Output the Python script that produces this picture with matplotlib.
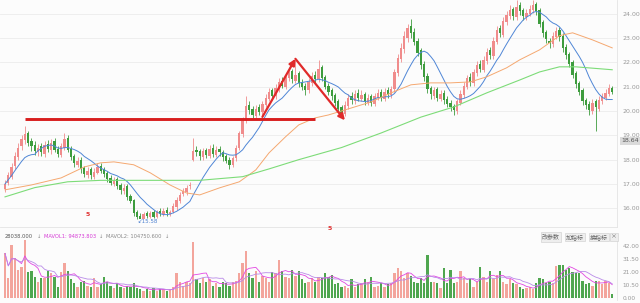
import numpy as np
import pandas as pd
import matplotlib
matplotlib.use("Agg")
import matplotlib.pyplot as plt

plt.rcParams['font.family'] = ['DejaVu Sans', 'Noto Sans CJK SC']
plt.rcParams['axes.unicode_minus'] = False

# daily candles
opens = [16.80, 17.05, 17.30, 17.75, 18.10, 18.55, 18.80, 19.10, 18.75, 18.60,
         18.30, 18.55, 18.25, 18.65, 18.40, 18.75, 18.45, 18.20, 18.50, 18.90,
         18.45, 18.15, 17.80, 18.00, 17.65, 17.35, 17.60, 17.30, 17.45, 17.75,
         17.60, 17.45, 17.25, 17.00, 17.20, 16.95, 16.70, 16.90, 16.50, 16.35,
         15.85, 15.70, 15.55, 15.80, 15.65, 15.85, 15.65, 15.90, 15.75, 15.95,
         15.75, 15.85, 16.05, 16.30, 16.60, 16.65, 16.90, 18.00, 18.40, 18.35,
         18.10, 18.40, 18.15, 18.50, 18.20, 18.45, 18.30, 18.15, 18.00, 17.80,
         18.05, 18.50, 19.05, 19.60, 20.25, 20.10, 19.80, 20.15, 19.95, 20.25,
         20.50, 20.85, 20.60, 20.90, 21.25, 21.00, 21.35, 21.65, 21.25, 21.55,
         21.20, 21.05, 20.85, 21.15, 21.50, 21.30, 21.80, 21.40, 21.05, 20.85,
         20.65, 20.40, 20.15, 19.90, 20.20, 20.60, 20.40, 20.75, 20.50, 20.70,
         20.35, 20.60, 20.30, 20.55, 20.80, 20.50, 20.85, 20.65, 20.90, 21.55,
         22.15, 22.55, 23.00, 23.50, 23.25, 22.90, 22.50, 21.95, 21.45, 20.95,
         20.60, 20.90, 20.50, 20.75, 20.50, 20.35, 20.20, 20.00, 20.35, 20.65,
         21.00, 21.40, 21.15, 21.55, 21.95, 21.70, 22.05, 22.50, 22.25, 22.85,
         23.40, 23.15, 23.65, 23.90, 24.20, 23.85, 24.35, 24.15, 23.85, 24.00,
         24.15, 24.40, 24.15, 23.65, 23.25, 22.90, 22.75, 23.05, 23.35, 23.10,
         22.65, 22.35, 22.00, 21.55, 21.15, 20.85, 20.45, 20.30, 20.00, 20.40,
         20.10, 20.40, 20.55, 20.70, 20.95]
closes = [17.00, 17.35, 17.70, 18.15, 18.50, 18.85, 19.05, 18.70, 18.55, 18.35,
          18.50, 18.30, 18.60, 18.45, 18.70, 18.40, 18.25, 18.55, 18.85, 18.40,
          18.10, 17.85, 17.95, 17.60, 17.40, 17.55, 17.35, 17.50, 17.70, 17.55,
          17.40, 17.20, 17.05, 17.15, 16.90, 16.75, 16.85, 16.45, 16.30, 15.80,
          15.65, 15.55, 15.75, 15.70, 15.80, 15.65, 15.85, 15.75, 15.90, 15.80,
          15.85, 16.10, 16.35, 16.55, 16.70, 16.85, 16.95, 18.35, 18.30, 18.15,
          18.35, 18.20, 18.45, 18.25, 18.40, 18.30, 18.10, 17.95, 17.80, 18.05,
          18.50, 19.10, 19.60, 20.20, 20.05, 19.85, 20.10, 19.95, 20.30, 20.55,
          20.80, 20.60, 20.95, 21.20, 21.05, 21.40, 21.60, 21.30, 21.50, 21.15,
          21.00, 20.85, 21.20, 21.45, 21.30, 21.75, 21.35, 21.00, 20.80, 20.60,
          20.35, 20.10, 19.90, 20.25, 20.55, 20.45, 20.70, 20.55, 20.65, 20.40,
          20.55, 20.35, 20.60, 20.75, 20.55, 20.80, 20.70, 20.90, 21.60, 22.20,
          22.60, 23.10, 23.40, 23.20, 22.85, 22.40, 21.90, 21.40, 20.90, 20.70,
          20.85, 20.55, 20.70, 20.45, 20.30, 20.15, 20.05, 20.40, 20.70, 21.05,
          21.35, 21.20, 21.60, 21.90, 21.75, 22.10, 22.45, 22.30, 22.90, 23.35,
          23.20, 23.70, 23.95, 24.15, 23.90, 24.30, 24.10, 23.90, 24.05, 24.20,
          24.35, 24.10, 23.60, 23.20, 22.95, 22.80, 23.10, 23.30, 23.05, 22.60,
          22.30, 21.95, 21.50, 21.10, 20.80, 20.40, 20.25, 20.05, 20.35, 20.15,
          20.45, 20.60, 20.75, 20.95, 20.80]
highs = [17.15, 17.50, 17.85, 18.30, 18.70, 19.00, 19.40, 19.20, 18.90, 18.75,
         18.65, 18.70, 18.75, 18.80, 18.85, 18.90, 18.55, 18.70, 19.10, 19.00,
         18.55, 18.25, 18.10, 18.10, 17.75, 17.70, 17.70, 17.65, 17.85, 17.85,
         17.70, 17.55, 17.35, 17.30, 17.30, 17.05, 17.00, 17.00, 16.60, 16.40,
         15.95, 15.80, 15.85, 15.90, 15.90, 15.95, 15.95, 16.00, 16.00, 16.05,
         15.95, 16.20, 16.45, 16.65, 16.85, 16.95, 17.10, 18.90, 18.55, 18.45,
         18.50, 18.50, 18.60, 18.65, 18.55, 18.55, 18.40, 18.25, 18.10, 18.15,
         18.60, 19.20, 19.75, 20.60, 20.40, 20.20, 20.25, 20.30, 20.40, 20.70,
         20.95, 20.95, 21.10, 21.35, 21.40, 21.55, 21.80, 21.75, 22.10, 21.65,
         21.30, 21.15, 21.35, 21.60, 21.65, 22.10, 21.90, 21.50, 21.15, 20.95,
         20.75, 20.50, 20.25, 20.40, 20.70, 20.80, 20.85, 20.90, 20.85, 20.80,
         20.70, 20.70, 20.75, 20.90, 20.90, 20.95, 21.00, 21.05, 21.75, 22.35,
         22.80, 23.30, 23.60, 23.80, 23.40, 23.00, 22.60, 22.05, 21.55, 21.05,
         21.00, 21.00, 20.85, 20.85, 20.60, 20.45, 20.30, 20.50, 20.85, 21.20,
         21.50, 21.55, 21.75, 22.05, 22.10, 22.25, 22.60, 22.65, 23.05, 23.50,
         23.55, 23.85, 24.10, 24.35, 24.30, 24.55, 24.50, 24.25, 24.20, 24.35,
         24.55, 24.50, 24.25, 23.75, 23.35, 23.00, 23.25, 23.45, 23.45, 23.20,
         22.75, 22.45, 22.10, 21.65, 21.25, 20.95, 20.55, 20.40, 20.50, 20.50,
         20.60, 20.75, 20.90, 21.10, 21.05]
lows = [16.65, 16.95, 17.20, 17.60, 18.00, 18.40, 18.65, 18.55, 18.35, 18.20,
        18.15, 18.15, 18.10, 18.30, 18.25, 18.30, 18.10, 18.10, 18.40, 18.30,
        18.00, 17.70, 17.70, 17.45, 17.30, 17.25, 17.20, 17.20, 17.40, 17.45,
        17.30, 17.10, 16.95, 16.90, 16.80, 16.60, 16.60, 16.35, 16.20, 15.70,
        15.55, 15.58, 15.60, 15.62, 15.60, 15.60, 15.60, 15.68, 15.70, 15.70,
        15.68, 15.80, 15.95, 16.20, 16.50, 16.55, 16.80, 17.95, 18.15, 18.00,
        18.00, 18.05, 18.05, 18.10, 18.10, 18.15, 17.95, 17.85, 17.60, 17.70,
        17.95, 18.40, 18.95, 19.50, 19.90, 19.70, 19.70, 19.85, 19.85, 20.15,
        20.40, 20.45, 20.50, 20.80, 20.95, 20.90, 21.25, 21.15, 21.15, 21.00,
        20.85, 20.65, 20.75, 21.05, 21.15, 21.20, 21.25, 20.90, 20.65, 20.45,
        20.20, 19.95, 19.70, 19.80, 20.10, 20.30, 20.30, 20.40, 20.40, 20.25,
        20.25, 20.20, 20.20, 20.45, 20.40, 20.40, 20.55, 20.55, 20.80, 21.45,
        22.00, 22.40, 22.85, 23.00, 22.70, 22.25, 21.75, 21.25, 20.75, 20.50,
        20.50, 20.40, 20.40, 20.30, 20.15, 20.00, 19.85, 19.90, 20.25, 20.55,
        20.90, 21.05, 21.05, 21.45, 21.60, 21.60, 21.95, 22.15, 22.15, 22.75,
        23.05, 23.05, 23.55, 23.80, 23.75, 23.75, 23.95, 23.75, 23.75, 23.90,
        24.05, 23.95, 23.45, 23.05, 22.80, 22.60, 22.65, 22.95, 22.90, 22.45,
        22.15, 21.80, 21.35, 20.95, 20.65, 20.25, 20.10, 19.85, 19.90, 19.20,
        20.00, 20.30, 20.45, 20.60, 20.70]
volumes = [36, 16, 43, 32, 23, 25, 47, 21, 22, 17,
           13, 16, 16, 22, 20, 17, 9, 21, 28, 22,
           15, 12, 9, 13, 14, 10, 9, 16, 9, 11,
           17, 13, 10, 8, 12, 9, 8, 10, 9, 12,
           8, 7, 6, 7, 6, 8, 6, 7, 7, 6,
           7, 9, 20, 13, 10, 13, 12, 45, 15, 12,
           16, 13, 15, 10, 12, 9, 13, 12, 10, 13,
           14, 20, 28, 38, 20, 16, 22, 13, 18, 16,
           13, 21, 20, 31, 22, 17, 16, 23, 18, 22,
           15, 12, 13, 16, 13, 17, 16, 20, 17, 19,
           11, 12, 9, 10, 8, 15, 9, 11, 12, 15,
           13, 17, 9, 10, 12, 9, 11, 12, 20, 24,
           22, 16, 20, 18, 13, 12, 16, 12, 35, 13,
           13, 12, 8, 24, 12, 23, 12, 13, 22, 16,
           12, 15, 9, 13, 25, 17, 13, 22, 15, 19,
           22, 13, 11, 15, 12, 11, 9, 7, 8, 9,
           7, 12, 16, 15, 12, 13, 12, 26, 27, 27,
           23, 24, 21, 20, 20, 14, 11, 12, 10, 14,
           14, 11, 14, 12, 3]

# slow moving averages at some candles
ma_orange_idx = [0, 8, 17, 24, 29, 33, 39, 44, 50, 55, 59, 65, 71, 76, 80, 85, 89,
                 94, 98, 105, 111, 117, 123, 129, 135, 141, 146, 152, 156, 162,
                 165, 168, 172, 178, 184]
ma_orange = [16.76, 16.96, 17.25, 17.70, 17.87, 17.91, 17.79, 17.46, 16.96, 16.63,
             16.55, 16.84, 17.09, 17.58, 18.28, 18.94, 19.43, 19.72, 19.84, 20.13,
             20.38, 20.75, 21.08, 21.16, 21.16, 21.20, 21.41, 21.78, 22.11, 22.52,
             22.81, 23.10, 23.22, 22.93, 22.60]
ma_green_idx = [0, 9, 19, 29, 44, 59, 72, 80, 89, 102, 114, 126, 136, 146, 156,
                162, 168, 173, 184]
ma_green = [16.47, 16.85, 17.09, 17.15, 17.15, 17.15, 17.30, 17.62, 18.00, 18.50,
            19.10, 19.75, 20.17, 20.75, 21.28, 21.61, 21.82, 21.82, 21.70]

# hand-drawn marks on the chart
support_idx = [6, 94]
support_price = [19.68, 19.68]
arrow_up = [(78, 19.76), (88, 22.15)]
arrow_down = [(88, 22.15), (103, 19.62)]

price_ticks = [16, 17, 18, 19, 20, 21, 22, 23, 24]
vol_ticks = [0, 10.5, 21, 31.5, 42]

opens = np.array(opens)
closes = np.array(closes)
highs = np.array(highs)
lows = np.array(lows)
volumes = np.array(volumes, dtype=float)
idx = np.arange(len(closes))
up = closes >= opens

c_up = '#f08c8c'
c_dn = '#3d9c3d'
W, H = 640, 303


def px(x, y):
    return x / W, 1 - y / H


fig = plt.figure(figsize=(6.4, 3.03), dpi=100, facecolor='#fcfcfc')

# price panel
ax = fig.add_axes([0, 1 - 227 / H, 617 / W, 227 / H], facecolor='#fcfcfc')
ax.set_xlim(-1.52, 185.45)
ax.set_ylim(15.23, 24.57)
ax.grid(axis='y', color='#ececec', lw=0.6)
ax.set_axisbelow(True)

col = np.where(up, c_up, c_dn)
ax.vlines(idx, lows, highs, colors=col, lw=0.6)
body = np.maximum(np.abs(closes - opens), 0.03)
ax.bar(idx, body, bottom=np.minimum(opens, closes), width=0.68, color=col, lw=0)

ma10 = pd.Series(closes).rolling(10, min_periods=1).mean()
ax.plot(idx, ma10, color='#4f86d6', lw=0.7)
ax.plot(ma_orange_idx, ma_orange, color='#f5a870', lw=0.7)
ax.plot(ma_green_idx, ma_green, color='#7ddc78', lw=0.8)

ax.plot(support_idx, support_price, color='#d81e1e', lw=2.1, solid_capstyle='butt')
for a in (arrow_up, arrow_down):
    ax.annotate('', xy=a[1], xytext=a[0],
                arrowprops=dict(arrowstyle='-|>', color='#e02a2a', lw=1.6,
                                mutation_scale=9, shrinkA=0, shrinkB=0))

ax.annotate('\u219915.58', xy=(41, lows[41]), xytext=(40, 15.45),
            fontsize=4, color='#4a7fd0', ha='left', va='center')

ax.yaxis.tick_right()
ax.set_yticks(price_ticks)
ax.set_yticklabels(['%.2f' % t for t in price_ticks], fontsize=4.5, color='#999999')
ax.tick_params(axis='y', length=0, pad=4)
ax.set_xticks([])
for s in ('top', 'left'):
    ax.spines[s].set_visible(False)
ax.spines['right'].set_color('#e4e4e4')
ax.spines['bottom'].set_color('#e4e4e4')
ax.spines['right'].set_linewidth(0.6)
ax.spines['bottom'].set_linewidth(0.6)

# volume panel
axv = fig.add_axes([0, 3 / H, 617 / W, (300 - 238) / H], facecolor='#fcfcfc')
axv.set_xlim(-1.52, 185.45)
axv.set_ylim(-1.6, 48.5)
vcol = np.where(up, '#f3a59c', '#4fa64f')
axv.bar(idx, volumes, width=0.68, color=vcol, lw=0)
mavol1 = pd.Series(volumes).rolling(5, min_periods=1).mean()
mavol2 = pd.Series(volumes).rolling(10, min_periods=1).mean()
axv.plot(idx, mavol1, color='#e246e2', lw=0.6)
axv.plot(idx, mavol2, color='#b98ae8', lw=0.6)
axv.yaxis.tick_right()
axv.set_yticks(vol_ticks)
axv.set_yticklabels(['%.2f' % t for t in vol_ticks], fontsize=4.2, color='#999999')
axv.tick_params(axis='y', length=0, pad=4)
axv.set_xticks([])
for s in ('top', 'left', 'bottom'):
    axv.spines[s].set_visible(False)
axv.spines['right'].set_color('#e4e4e4')
axv.spines['right'].set_linewidth(0.6)

# header of the volume panel
fs = 3.7
fig.text(*px(5, 237), '28038.000', fontsize=fs, color='#555555', va='center')
fig.text(*px(37, 237), '\u2193', fontsize=fs, color='#888888', va='center')
fig.text(*px(44, 237), 'MAVOL1: 94873.803', fontsize=fs, color='#d63bd6', va='center')
fig.text(*px(99, 237), '\u2193', fontsize=fs, color='#888888', va='center')
fig.text(*px(106, 237), 'MAVOL2: 104750.600', fontsize=fs, color='#888888', va='center')
fig.text(*px(165, 237), '\u2193', fontsize=fs, color='#888888', va='center')

for x0, label in [(551, '改参数'), (575, '加指标'), (599, '换指标'), (614, '×')]:
    fig.text(*px(x0, 237), label, fontsize=4.3, color='#666666', ha='center', va='center',
             family=['Noto Sans CJK SC', 'DejaVu Sans'],
             bbox=dict(boxstyle='square,pad=0.25', fc='#eeeeee', ec='#cccccc', lw=0.4))

# current price tag and markers
fig.text(*px(621, 141), '18.64', fontsize=4.5, color='#555555', va='center',
         bbox=dict(boxstyle='square,pad=0.2', fc='#dadada', ec='none'))
fig.text(*px(88, 214), '5', fontsize=4.5, color='#e03030', ha='center', va='center',
         weight='bold')
fig.text(*px(330, 228), '5', fontsize=4.5, color='#e03030', ha='center', va='center',
         weight='bold')

fig.savefig('out.png', dpi=100, facecolor=fig.get_facecolor())
